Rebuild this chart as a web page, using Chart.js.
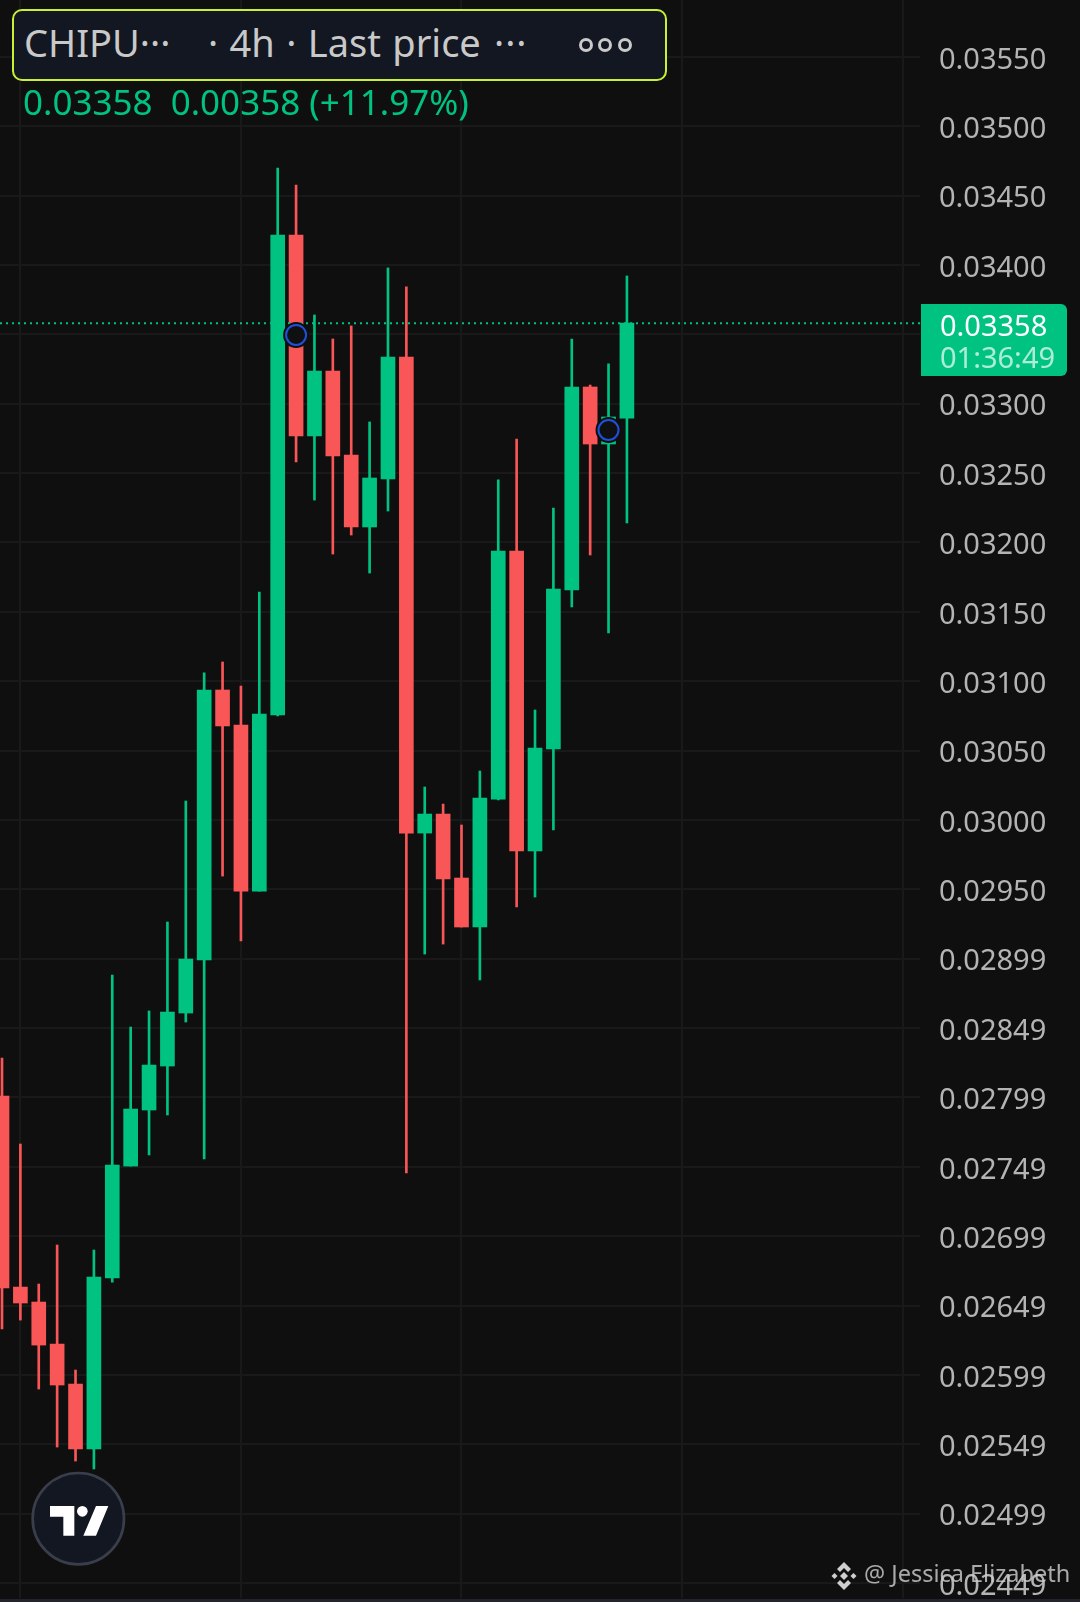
<!DOCTYPE html>
<html>
<head>
<meta charset="utf-8">
<title>CHIPU 4h</title>
<script src="https://cdn.jsdelivr.net/npm/chart.js@4/dist/chart.umd.min.js"></script>
<style>
html, body { margin: 0; padding: 0; background: #0f0f0f; }
body { position: relative; width: 1080px; height: 1602px; overflow: hidden; font-family: "Noto Sans", sans-serif; }
canvas { position: absolute; left: 0; top: 0; }
.abs { position: absolute; white-space: pre; line-height: 1; }
#header { position: absolute; left: 12px; top: 9px; width: 651px; height: 68px; border: 2px solid #c6f135; border-radius: 10px; background: #131722; }
.head { font-size: 38px; color: #c9c9c9; top: 23px; }
#legend { left: 23px; top: 84px; font-size: 35px; color: #00c382; }
#priceBox { position: absolute; left: 921px; top: 304px; width: 146px; height: 72px; background: #00c382; border-radius: 0 6px 6px 0; }
#priceValue { left: 940px; top: 310px; font-size: 29px; color: #fff; }
#priceTimer { left: 940px; top: 342px; font-size: 29px; color: rgba(255,255,255,.68); }
#bottomLine { position: absolute; left: 0; top: 1599px; width: 1080px; height: 3px; background: #21242d; }
#watermark { left: 864px; top: 1562px; font-size: 23.5px; color: rgba(205,205,205,.82); }
svg { position: absolute; }
</style>
</head>
<body>
<canvas id="chart" width="1080" height="1602"></canvas>

<div id="header"></div>
<div class="abs head" style="left:24px">CHIPU···</div>
<div class="abs head" style="left:208px;word-spacing:1.5px">· 4h · Last price</div>
<div class="abs head" style="left:494px;letter-spacing:1px">···</div>
<svg style="left:570px;top:30px" width="70" height="30" fill="none" stroke="#c9c9c9" stroke-width="3">
    <circle cx="16" cy="15" r="5.5"></circle>
    <circle cx="35" cy="15" r="5.5"></circle>
    <circle cx="55" cy="15" r="5.5"></circle>
</svg>
<div class="abs" id="legend"></div>

<div id="priceBox"></div>
<div class="abs" id="priceValue"></div>
<div class="abs" id="priceTimer">01:36:49</div>

<svg style="left:20px;top:1460px" width="120" height="120" viewBox="0 0 360 360">
    <circle cx="175" cy="176" r="137" fill="#131722" stroke="#3a3e4b" stroke-width="8"></circle>
    <path fill="#fff" d="M90 138H163V227H130V170H90Z M228 138H265L228 227H190Z"></path>
    <circle cx="187" cy="154" r="16" fill="#fff"></circle>
</svg>

<svg style="left:830px;top:1561px" width="28" height="30" viewBox="0 0 28 30" fill="#cfcfcf">
    <path d="M14 1L21 8L18 11L14 7L10 11L7 8Z"></path>
    <path d="M14 29L21 22L18 19L14 23L10 19L7 22Z"></path>
    <path d="M14 11L18 15L14 19L10 15Z"></path>
    <path d="M4.500 12L7.500 15L4.500 18L1.500 15Z"></path>
    <path d="M23.500 12L26.500 15L23.500 18L20.500 15Z"></path>
</svg>
<div class="abs" id="watermark">@ Jessica Elizabeth</div>
<div id="bottomLine"></div>

<script>
const opens = [
    0.028010, 0.026633, 0.026525, 0.026222, 0.025934, 0.025466, 0.026698,
    0.027505, 0.027909, 0.028226, 0.028608, 0.028990, 0.030936, 0.030684,
    0.029487, 0.030756, 0.034215, 0.032767, 0.033235, 0.032630, 0.032111,
    0.032457, 0.033336, 0.029905, 0.030042, 0.029581, 0.029228, 0.030150,
    0.031938, 0.029776, 0.030511, 0.031657, 0.033120, 0.032709, 0.032896
];
const highs = [
    0.028284, 0.027664, 0.026655, 0.026936, 0.026035, 0.026900, 0.028882,
    0.028507, 0.028623, 0.029264, 0.030136, 0.031059, 0.031138, 0.030965,
    0.031642, 0.034698, 0.034576, 0.033639, 0.033466, 0.033560, 0.032868,
    0.033978, 0.033841, 0.030237, 0.030114, 0.029963, 0.030352, 0.032450,
    0.032745, 0.030792, 0.032248, 0.033466, 0.033134, 0.033286, 0.033920
];
const lows = [
    0.026331, 0.026395, 0.025898, 0.025480, 0.025379, 0.025322, 0.026669,
    0.027505, 0.027585, 0.027873, 0.028543, 0.027556, 0.029595, 0.029127,
    0.029487, 0.030749, 0.032579, 0.032305, 0.031916, 0.032053, 0.031779,
    0.032226, 0.027455, 0.029033, 0.029105, 0.029228, 0.028846, 0.030143,
    0.029372, 0.029444, 0.029927, 0.031534, 0.031909, 0.031347, 0.032140
];
const closes = [
    0.026626, 0.026518, 0.026215, 0.025927, 0.025466, 0.026705, 0.027513,
    0.027916, 0.028233, 0.028615, 0.028997, 0.030936, 0.030677, 0.029487,
    0.030763, 0.034215, 0.032767, 0.033235, 0.032623, 0.032111, 0.032464,
    0.033336, 0.029905, 0.030042, 0.029574, 0.029228, 0.030158, 0.031938,
    0.029776, 0.030518, 0.031664, 0.033120, 0.032709, 0.032904, 0.03358
];

// blue trade markers on the chart
const markerBars = [16, 33];
const markerPrices = [0.033495, 0.032810];

const tickValues = [
    0.0355, 0.0350, 0.0345, 0.0340, 0.0335, 0.0330, 0.0325, 0.0320,
    0.0315, 0.0310, 0.0305, 0.0300, 0.0295, 0.0290, 0.0285, 0.0280,
    0.0275, 0.0270, 0.0265, 0.0260, 0.0255, 0.0250, 0.0245
];
const tickLabels = [
    "0.03550", "0.03500", "0.03450", "0.03400", "0.03350", "0.03300",
    "0.03250", "0.03200", "0.03150", "0.03100", "0.03050", "0.03000",
    "0.02950", "0.02899", "0.02849", "0.02799", "0.02749", "0.02699",
    "0.02649", "0.02599", "0.02549", "0.02499", "0.02449"
];
const gridBars = [1, 13, 25, 37, 49];

const legendChange = "0.00358 (+11.97%)";

const UP = "#00c382";
const DOWN = "#f95757";
const GRID = "#191919";
const X_MIN = -0.109;
const X_MAX = 49.946;

const lastPrice = closes[closes.length - 1];
const candleColors = closes.map((c, i) => c >= opens[i] ? UP : DOWN);

document.getElementById("legend").textContent = `${lastPrice.toFixed(5)}  ${legendChange}`;
document.getElementById("priceValue").textContent = lastPrice.toFixed(5);

new Chart(document.getElementById("chart"), {
    data: {
        datasets: [
            {
                type: "scatter",
                data: markerBars.map((b, i) => ({ x: b, y: markerPrices[i] })),
                pointRadius: 10,
                pointBorderWidth: 2,
                pointBackgroundColor: "#0f1012",
                pointBorderColor: "#1f50d8",
                order: 1
            },
            {
                type: "scatter",
                data: markerBars.map((b, i) => ({ x: b, y: markerPrices[i] })),
                pointRadius: 13,
                pointBorderWidth: 0,
                pointBackgroundColor: "#0f0f0f",
                order: 2
            },
            {
                type: "line",
                data: [{ x: X_MIN, y: lastPrice }, { x: X_MAX, y: lastPrice }],
                borderColor: UP,
                borderWidth: 2,
                borderDash: [2, 4],
                pointRadius: 0,
                order: 3
            },
            {
                type: "bar",
                data: opens.map((o, i) => ({ x: i, y: [o, closes[i]] })),
                backgroundColor: candleColors,
                barThickness: 14,
                grouped: false,
                order: 4
            },
            {
                type: "bar",
                data: highs.map((h, i) => ({ x: i, y: [lows[i], h] })),
                backgroundColor: candleColors,
                barThickness: 2,
                grouped: false,
                order: 5
            }
        ]
    },
    options: {
        responsive: false,
        animation: false,
        devicePixelRatio: 1,
        layout: { autoPadding: false, padding: { left: 0, right: 0, top: 0, bottom: 4 } },
        plugins: {
            legend: { display: false },
            tooltip: { enabled: false }
        },
        scales: {
            x: {
                type: "linear",
                min: X_MIN,
                max: X_MAX,
                offset: false,
                border: { display: false },
                grid: { color: GRID, lineWidth: 2, drawTicks: false, offset: false },
                ticks: { display: false },
                afterBuildTicks: scale => {
                    scale.ticks = gridBars.map(v => ({ value: v }));
                }
            },
            y: {
                position: "right",
                min: 0.024392,
                max: 0.035909,
                border: { display: false },
                grid: { color: GRID, lineWidth: 2, drawTicks: false },
                ticks: {
                    autoSkip: false,
                    padding: 19,
                    labelOffset: 3.5,
                    color: "#b4b4b4",
                    font: { family: "Noto Sans", size: 29 },
                    callback: (value, i) => tickLabels[i]
                },
                afterBuildTicks: scale => {
                    scale.ticks = tickValues.map(v => ({ value: v }));
                },
                afterFit: scale => {
                    scale.width = 160;
                    scale.paddingTop = 0;
                    scale.paddingBottom = 0;
                }
            }
        }
    }
});
</script>
</body>
</html>
